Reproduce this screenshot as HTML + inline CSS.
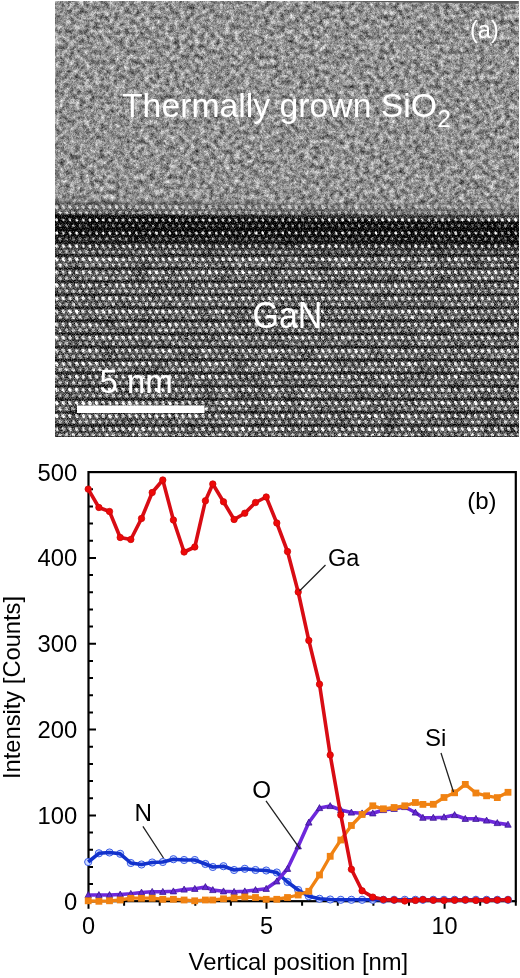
<!DOCTYPE html>
<html><head><meta charset="utf-8"><title>Figure</title>
<style>
html,body{margin:0;padding:0;background:#fff}
body{width:520px;height:978px;overflow:hidden}
svg{display:block}
text{font-family:"Liberation Sans",Arial,Helvetica,sans-serif}
</style></head><body>
<svg width="520" height="978" viewBox="0 0 520 978">
<defs>
<filter id="nz" x="0" y="0" width="100%" height="100%" color-interpolation-filters="sRGB">
<feTurbulence type="fractalNoise" baseFrequency="0.2" numOctaves="2" seed="7" result="t1"/>
<feColorMatrix in="t1" type="matrix" values="0.85 0 0 0 -0.025  0.85 0 0 0 -0.025  0.85 0 0 0 -0.025  0 0 0 0 1" result="a"/>
<feTurbulence type="fractalNoise" baseFrequency="1.7" numOctaves="1" seed="23" result="t2"/>
<feColorMatrix in="t2" type="matrix" values="0.62 0 0 0 0.09  0.62 0 0 0 0.09  0.62 0 0 0 0.09  0 0 0 0 1" result="b"/>
<feComposite in="a" in2="b" operator="arithmetic" k1="0" k2="1" k3="1" k4="-0.232"/>
</filter>
<filter id="lf" x="0" y="0" width="100%" height="100%" color-interpolation-filters="sRGB">
<feGaussianBlur in="SourceGraphic" stdDeviation="0.55" result="L"/>
<feTurbulence type="fractalNoise" baseFrequency="0.06 0.12" numOctaves="2" seed="5" result="t1"/>
<feColorMatrix in="t1" type="matrix" values="1 0 0 0 0  1 0 0 0 0  1 0 0 0 0  0 0 0 0 1" result="m"/>
<feComposite in="L" in2="m" operator="arithmetic" k1="0.9" k2="0.5" k3="0" k4="0" result="lm"/>
<feTurbulence type="fractalNoise" baseFrequency="1.3" numOctaves="1" seed="31" result="t2"/>
<feColorMatrix in="t2" type="matrix" values="1 0 0 0 0  1 0 0 0 0  1 0 0 0 0  0 0 0 0 1" result="h"/>
<feComposite in="lm" in2="h" operator="arithmetic" k1="0" k2="1" k3="1.15" k4="-0.53"/>
</filter>
<pattern id="lat" x="55" y="255.5" width="6.65" height="13.07" patternUnits="userSpaceOnUse">
<rect width="6.65" height="13.07" fill="#1c1c1c"/>
<rect y="1.2" width="6.65" height="10.6" fill="#4a4a4a"/>
<ellipse cx="1.7" cy="3.7" rx="1.5" ry="2.15" fill="#f4f4f4" transform="rotate(-30 1.7 3.7)"/>
<ellipse cx="5.02" cy="9.5" rx="1.6" ry="1.9" fill="#c0c0c0" transform="rotate(-30 5.02 9.5)"/>
</pattern>
<pattern id="lat2" x="55" y="255.5" width="6.65" height="13.07" patternUnits="userSpaceOnUse">
<rect width="6.65" height="13.07" fill="#000"/>
<ellipse cx="1.7" cy="3.7" rx="1.25" ry="1.7" fill="#e8e8e8" transform="rotate(-30 1.7 3.7)"/>
<ellipse cx="5.02" cy="9.5" rx="1.2" ry="1.5" fill="#989898" transform="rotate(-30 5.02 9.5)"/>
</pattern>
<linearGradient id="bfade" x1="0" y1="0" x2="0" y2="1">
<stop offset="0" stop-color="#fff" stop-opacity="0"/>
<stop offset="0.1" stop-color="#fff" stop-opacity="1"/>
<stop offset="0.55" stop-color="#fff" stop-opacity=".95"/>
<stop offset="1" stop-color="#fff" stop-opacity="0"/>
</linearGradient>
<mask id="mk2" maskUnits="userSpaceOnUse" x="55" y="190" width="465" height="80">
<rect x="55" y="212" width="465" height="40" fill="url(#bfade)" transform="matrix(1 0.013 0 1 0 -0.5)"/>
</mask>
<linearGradient id="band" x1="0" y1="0" x2="0" y2="1">
<stop offset="0" stop-color="#000" stop-opacity="0"/>
<stop offset="0.18" stop-color="#000" stop-opacity=".6"/>
<stop offset="0.5" stop-color="#000" stop-opacity=".5"/>
<stop offset="0.8" stop-color="#000" stop-opacity=".15"/>
<stop offset="1" stop-color="#000" stop-opacity="0"/>
</linearGradient>
<linearGradient id="fade" x1="0" y1="0" x2="0" y2="1">
<stop offset="0" stop-color="#fff"/>
<stop offset="0.914" stop-color="#fff"/>
<stop offset="0.942" stop-color="#fff" stop-opacity=".55"/>
<stop offset="0.974" stop-color="#fff" stop-opacity=".22"/>
<stop offset="0.995" stop-color="#fff" stop-opacity="0"/>
</linearGradient>
<mask id="mk" maskUnits="userSpaceOnUse" x="55" y="0" width="465" height="230">
<rect x="55" y="1" width="465" height="218" fill="url(#fade)" transform="matrix(1 0.013 0 1 0 -4)"/>
</mask>
</defs>

<g id="tem">
<rect x="55" y="1" width="463.8" height="435.2" fill="#5a5a5a"/>
<rect x="55" y="190" width="463.8" height="246.2" fill="url(#lat)" filter="url(#lf)"/>
<g mask="url(#mk2)"><rect x="55" y="190" width="463.8" height="80" fill="url(#lat2)" filter="url(#lf)"/></g>
<rect x="55" y="1" width="463.8" height="224" filter="url(#nz)" mask="url(#mk)"/>
<text x="122" y="116.8" font-size="33.75" fill="#fff">Thermally grown SiO<tspan font-size="24" dx="0.5" dy="9.8">2</tspan></text>
<text transform="translate(252.5 327.6) scale(1 1.06)" font-size="34" fill="#fff">GaN</text>
<text x="99.5" y="392.5" font-size="33" fill="#fff">5 nm</text>
<rect x="77" y="405.5" width="127.5" height="7.5" fill="#fff"/>
<text x="470" y="38.2" font-size="23.5" fill="#fff">(a)</text>
</g>
<g id="chart">
<rect x="88.5" y="472.1" width="427.3" height="429.1" fill="#fff" stroke="#000" stroke-width="2.2"/>
<path d="M88.5 901.2h7.5M88.5 884.0h4.5M88.5 866.9h4.5M88.5 849.7h4.5M88.5 832.5h4.5M88.5 815.4h7.5M88.5 798.2h4.5M88.5 781.1h4.5M88.5 763.9h4.5M88.5 746.7h4.5M88.5 729.6h7.5M88.5 712.4h4.5M88.5 695.2h4.5M88.5 678.1h4.5M88.5 660.9h4.5M88.5 643.7h7.5M88.5 626.6h4.5M88.5 609.4h4.5M88.5 592.2h4.5M88.5 575.1h4.5M88.5 557.9h7.5M88.5 540.8h4.5M88.5 523.6h4.5M88.5 506.4h4.5M88.5 489.3h4.5M88.5 472.1h7.5M88.5 901.2v7.5M124.1 901.2v4.5M159.7 901.2v4.5M195.3 901.2v4.5M230.9 901.2v4.5M266.5 901.2v7.5M302.1 901.2v4.5M337.8 901.2v4.5M373.4 901.2v4.5M409.0 901.2v4.5M444.6 901.2v7.5M480.2 901.2v4.5M515.8 901.2v4.5" stroke="#000" stroke-width="2" fill="none"/>
<text x="77.3" y="909.6" font-size="23.8" text-anchor="end">0</text>
<text x="77.3" y="823.8" font-size="23.8" text-anchor="end">100</text>
<text x="77.3" y="738.0" font-size="23.8" text-anchor="end">200</text>
<text x="77.3" y="652.1" font-size="23.8" text-anchor="end">300</text>
<text x="77.3" y="566.3" font-size="23.8" text-anchor="end">400</text>
<text x="77.3" y="480.5" font-size="23.8" text-anchor="end">500</text>
<text x="88.5" y="934.3" font-size="23.5" text-anchor="middle">0</text>
<text x="266.5" y="934.3" font-size="23.5" text-anchor="middle">5</text>
<text x="444.6" y="934.3" font-size="23.5" text-anchor="middle">10</text>
<text x="298.4" y="970" font-size="23.8" text-anchor="middle">Vertical position [nm]</text>
<text transform="translate(19.8 687.5) rotate(-90)" font-size="23.7" text-anchor="middle">Intensity [Counts]</text>
<g>
<g fill="#cfdcff" stroke="#3a5ce6" stroke-width="1"><circle cx="88.2" cy="862.0" r="3.6"/><circle cx="98.9" cy="853.3" r="3.6"/><circle cx="109.5" cy="852.5" r="3.6"/><circle cx="120.2" cy="853.8" r="3.6"/><circle cx="130.8" cy="863.0" r="3.6"/><circle cx="141.5" cy="864.5" r="3.6"/><circle cx="152.2" cy="862.5" r="3.6"/><circle cx="162.8" cy="862.0" r="3.6"/><circle cx="173.4" cy="859.2" r="3.6"/><circle cx="184.1" cy="860.0" r="3.6"/><circle cx="194.8" cy="860.0" r="3.6"/><circle cx="205.4" cy="864.0" r="3.6"/><circle cx="212.8" cy="867.0" r="3.6"/><circle cx="223.5" cy="866.2" r="3.6"/><circle cx="234.1" cy="870.0" r="3.6"/><circle cx="244.8" cy="868.8" r="3.6"/><circle cx="255.5" cy="870.0" r="3.6"/><circle cx="266.2" cy="870.5" r="3.6"/><circle cx="276.8" cy="872.5" r="3.6"/><circle cx="287.5" cy="882.0" r="3.6"/><circle cx="298.2" cy="890.0" r="3.6"/><circle cx="308.8" cy="896.2" r="3.6"/><circle cx="319.5" cy="898.8" r="3.6"/><circle cx="330.2" cy="899.5" r="3.6"/><circle cx="340.8" cy="899.8" r="3.6"/><circle cx="351.4" cy="899.8" r="3.6"/><circle cx="362.1" cy="899.8" r="3.6"/><circle cx="372.8" cy="899.8" r="3.6"/><circle cx="383.4" cy="899.8" r="3.6"/><circle cx="394.1" cy="899.8" r="3.6"/><circle cx="404.8" cy="899.8" r="3.6"/><circle cx="415.4" cy="899.8" r="3.6"/><circle cx="422.9" cy="899.8" r="3.6"/><circle cx="433.3" cy="899.8" r="3.6"/><circle cx="444.0" cy="899.8" r="3.6"/><circle cx="454.6" cy="899.8" r="3.6"/><circle cx="465.3" cy="899.8" r="3.6"/><circle cx="475.9" cy="899.8" r="3.6"/><circle cx="486.6" cy="899.8" r="3.6"/><circle cx="497.3" cy="899.8" r="3.6"/><circle cx="508.0" cy="899.8" r="3.6"/></g>
<polyline points="88.2,862.0 98.9,853.3 109.5,852.5 120.2,853.8 130.8,863.0 141.5,864.5 152.2,862.5 162.8,862.0 173.4,859.2 184.1,860.0 194.8,860.0 205.4,864.0 212.8,867.0 223.5,866.2 234.1,870.0 244.8,868.8 255.5,870.0 266.2,870.5 276.8,872.5 287.5,882.0 298.2,890.0 308.8,896.2 319.5,898.8 330.2,899.5 340.8,899.8 351.4,899.8 362.1,899.8 372.8,899.8 383.4,899.8 394.1,899.8 404.8,899.8 415.4,899.8 422.9,899.8 433.3,899.8 444.0,899.8 454.6,899.8 465.3,899.8 475.9,899.8 486.6,899.8 497.3,899.8 508.0,899.8" fill="none" stroke="#1232cc" stroke-width="3.6" stroke-linejoin="round"/>
</g>
<polyline points="88.2,895.0 98.9,895.0 109.5,895.0 120.2,894.5 130.8,893.8 141.5,892.5 152.2,891.8 162.8,891.8 173.4,891.2 184.1,889.5 194.8,888.8 205.4,887.0 212.8,890.0 223.5,891.2 234.1,891.8 244.8,891.2 255.5,890.0 266.2,888.8 276.8,881.2 287.5,868.8 298.2,846.2 308.8,822.5 319.5,808.0 330.2,806.0 340.8,810.0 351.4,812.5 362.1,813.2 372.8,813.2 383.4,810.0 394.1,808.8 404.8,807.0 415.4,812.5 422.9,817.7 433.3,817.7 444.0,817.2 454.6,815.0 465.3,818.8 475.9,818.8 486.6,820.5 497.3,823.0 508.0,824.6" fill="none" stroke="#6e28dc" stroke-width="3.6" stroke-linejoin="round"/>
<g fill="#6428d2" stroke="#3c1690" stroke-width=".8"><path d="M85.0 897.6h6.4l-3.2-6z"/><path d="M95.7 897.6h6.4l-3.2-6z"/><path d="M106.3 897.6h6.4l-3.2-6z"/><path d="M117.0 897.1h6.4l-3.2-6z"/><path d="M127.6 896.4h6.4l-3.2-6z"/><path d="M138.3 895.1h6.4l-3.2-6z"/><path d="M149.0 894.4h6.4l-3.2-6z"/><path d="M159.6 894.4h6.4l-3.2-6z"/><path d="M170.2 893.9h6.4l-3.2-6z"/><path d="M180.9 892.1h6.4l-3.2-6z"/><path d="M191.6 891.4h6.4l-3.2-6z"/><path d="M202.2 889.6h6.4l-3.2-6z"/><path d="M209.6 892.6h6.4l-3.2-6z"/><path d="M220.3 893.9h6.4l-3.2-6z"/><path d="M230.9 894.4h6.4l-3.2-6z"/><path d="M241.6 893.9h6.4l-3.2-6z"/><path d="M252.3 892.6h6.4l-3.2-6z"/><path d="M263.0 891.4h6.4l-3.2-6z"/><path d="M273.6 883.9h6.4l-3.2-6z"/><path d="M284.3 871.4h6.4l-3.2-6z"/><path d="M295.0 848.9h6.4l-3.2-6z"/><path d="M305.6 825.1h6.4l-3.2-6z"/><path d="M316.3 810.6h6.4l-3.2-6z"/><path d="M327.0 808.6h6.4l-3.2-6z"/><path d="M337.6 812.6h6.4l-3.2-6z"/><path d="M348.2 815.1h6.4l-3.2-6z"/><path d="M358.9 815.9h6.4l-3.2-6z"/><path d="M369.6 815.9h6.4l-3.2-6z"/><path d="M380.2 812.6h6.4l-3.2-6z"/><path d="M390.9 811.4h6.4l-3.2-6z"/><path d="M401.6 809.6h6.4l-3.2-6z"/><path d="M412.2 815.1h6.4l-3.2-6z"/><path d="M419.7 820.3h6.4l-3.2-6z"/><path d="M430.1 820.3h6.4l-3.2-6z"/><path d="M440.8 819.8h6.4l-3.2-6z"/><path d="M451.4 817.6h6.4l-3.2-6z"/><path d="M462.1 821.4h6.4l-3.2-6z"/><path d="M472.7 821.4h6.4l-3.2-6z"/><path d="M483.4 823.1h6.4l-3.2-6z"/><path d="M494.1 825.6h6.4l-3.2-6z"/><path d="M504.8 827.2h6.4l-3.2-6z"/></g>
<polyline points="88.2,900.8 98.9,901.2 109.5,900.8 120.2,900.0 130.8,898.2 141.5,898.2 152.2,898.2 162.8,899.2 173.4,899.2 184.1,900.0 194.8,900.8 205.4,900.0 212.8,900.0 223.5,898.8 234.1,898.0 244.8,897.0 255.5,897.5 266.2,899.2 276.8,899.2 287.5,897.5 298.2,895.0 308.8,891.2 319.5,875.0 330.2,856.2 340.8,840.0 351.4,825.5 362.1,814.5 372.8,805.8 383.4,808.8 394.1,807.5 404.8,805.8 415.4,802.5 422.9,804.4 433.3,804.3 444.0,797.5 454.6,792.8 465.3,784.4 475.9,793.0 486.6,795.8 497.3,797.6 508.0,792.3" fill="none" stroke="#f08212" stroke-width="3.3" stroke-linejoin="round"/>
<g fill="#f08212"><rect x="84.8" y="897.4" width="6.8" height="6.8"/><rect x="95.5" y="897.9" width="6.8" height="6.8"/><rect x="106.1" y="897.4" width="6.8" height="6.8"/><rect x="116.8" y="896.6" width="6.8" height="6.8"/><rect x="127.4" y="894.9" width="6.8" height="6.8"/><rect x="138.1" y="894.9" width="6.8" height="6.8"/><rect x="148.8" y="894.9" width="6.8" height="6.8"/><rect x="159.4" y="895.9" width="6.8" height="6.8"/><rect x="170.0" y="895.9" width="6.8" height="6.8"/><rect x="180.7" y="896.6" width="6.8" height="6.8"/><rect x="191.3" y="897.4" width="6.8" height="6.8"/><rect x="202.0" y="896.6" width="6.8" height="6.8"/><rect x="209.3" y="896.6" width="6.8" height="6.8"/><rect x="220.1" y="895.4" width="6.8" height="6.8"/><rect x="230.7" y="894.6" width="6.8" height="6.8"/><rect x="241.4" y="893.6" width="6.8" height="6.8"/><rect x="252.1" y="894.1" width="6.8" height="6.8"/><rect x="262.8" y="895.9" width="6.8" height="6.8"/><rect x="273.4" y="895.9" width="6.8" height="6.8"/><rect x="284.1" y="894.1" width="6.8" height="6.8"/><rect x="294.8" y="891.6" width="6.8" height="6.8"/><rect x="305.4" y="887.9" width="6.8" height="6.8"/><rect x="316.1" y="871.6" width="6.8" height="6.8"/><rect x="326.8" y="852.9" width="6.8" height="6.8"/><rect x="337.4" y="836.6" width="6.8" height="6.8"/><rect x="348.0" y="822.1" width="6.8" height="6.8"/><rect x="358.7" y="811.1" width="6.8" height="6.8"/><rect x="369.4" y="802.4" width="6.8" height="6.8"/><rect x="380.0" y="805.4" width="6.8" height="6.8"/><rect x="390.7" y="804.1" width="6.8" height="6.8"/><rect x="401.4" y="802.4" width="6.8" height="6.8"/><rect x="412.0" y="799.1" width="6.8" height="6.8"/><rect x="419.5" y="801.0" width="6.8" height="6.8"/><rect x="429.9" y="800.9" width="6.8" height="6.8"/><rect x="440.6" y="794.1" width="6.8" height="6.8"/><rect x="451.2" y="789.4" width="6.8" height="6.8"/><rect x="461.9" y="781.0" width="6.8" height="6.8"/><rect x="472.5" y="789.6" width="6.8" height="6.8"/><rect x="483.2" y="792.4" width="6.8" height="6.8"/><rect x="493.9" y="794.2" width="6.8" height="6.8"/><rect x="504.6" y="788.9" width="6.8" height="6.8"/></g>
<polyline points="88.2,489.1 98.9,507.5 109.5,511.5 120.2,537.5 130.8,539.5 141.5,518.5 152.2,492.5 162.8,480.0 173.4,520.0 184.1,552.0 194.8,547.0 205.4,500.8 212.8,484.0 223.5,501.8 234.1,519.5 244.8,513.2 255.5,502.5 266.2,497.0 276.8,523.0 287.5,551.5 298.2,592.0 308.8,640.4 319.5,684.2 330.2,755.0 340.8,815.0 351.4,869.3 362.1,890.8 372.8,897.1 383.4,899.6 394.1,900.0 404.8,901.0 415.4,900.4 422.9,899.6 433.3,900.2 444.0,900.4 454.6,900.2 465.3,900.0 475.9,900.4 486.6,900.2 497.3,900.0 508.0,899.8" fill="none" stroke="#d80c14" stroke-width="3.6" stroke-linejoin="round"/>
<g fill="#ee0808" stroke="#cc0808" stroke-width=".8"><circle cx="88.2" cy="489.1" r="3.2"/><circle cx="98.9" cy="507.5" r="3.2"/><circle cx="109.5" cy="511.5" r="3.2"/><circle cx="120.2" cy="537.5" r="3.2"/><circle cx="130.8" cy="539.5" r="3.2"/><circle cx="141.5" cy="518.5" r="3.2"/><circle cx="152.2" cy="492.5" r="3.2"/><circle cx="162.8" cy="480.0" r="3.2"/><circle cx="173.4" cy="520.0" r="3.2"/><circle cx="184.1" cy="552.0" r="3.2"/><circle cx="194.8" cy="547.0" r="3.2"/><circle cx="205.4" cy="500.8" r="3.2"/><circle cx="212.8" cy="484.0" r="3.2"/><circle cx="223.5" cy="501.8" r="3.2"/><circle cx="234.1" cy="519.5" r="3.2"/><circle cx="244.8" cy="513.2" r="3.2"/><circle cx="255.5" cy="502.5" r="3.2"/><circle cx="266.2" cy="497.0" r="3.2"/><circle cx="276.8" cy="523.0" r="3.2"/><circle cx="287.5" cy="551.5" r="3.2"/><circle cx="298.2" cy="592.0" r="3.2"/><circle cx="308.8" cy="640.4" r="3.2"/><circle cx="319.5" cy="684.2" r="3.2"/><circle cx="330.2" cy="755.0" r="3.2"/><circle cx="340.8" cy="815.0" r="3.2"/><circle cx="351.4" cy="869.3" r="3.2"/><circle cx="362.1" cy="890.8" r="3.2"/><circle cx="372.8" cy="897.1" r="3.2"/><circle cx="383.4" cy="899.6" r="3.2"/><circle cx="394.1" cy="900.0" r="3.2"/><circle cx="404.8" cy="901.0" r="3.2"/><circle cx="415.4" cy="900.4" r="3.2"/><circle cx="422.9" cy="899.6" r="3.2"/><circle cx="433.3" cy="900.2" r="3.2"/><circle cx="444.0" cy="900.4" r="3.2"/><circle cx="454.6" cy="900.2" r="3.2"/><circle cx="465.3" cy="900.0" r="3.2"/><circle cx="475.9" cy="900.4" r="3.2"/><circle cx="486.6" cy="900.2" r="3.2"/><circle cx="497.3" cy="900.0" r="3.2"/><circle cx="508.0" cy="899.8" r="3.2"/></g>
<path d="M299.5 591L325.5 565M142.9 826.3L163.5 858M266 800.8L300 848.8M441 753L453.5 792" stroke="#222" stroke-width="1.3" fill="none"/>
<text x="328" y="565.8" font-size="23.5">Ga</text>
<text x="134.5" y="821.1" font-size="24.2">N</text>
<text x="252.2" y="797.6" font-size="24.2">O</text>
<text x="425" y="745.7" font-size="24">Si</text>
<text x="467.2" y="509.4" font-size="24">(b)</text>
</g>
</svg></body></html>
